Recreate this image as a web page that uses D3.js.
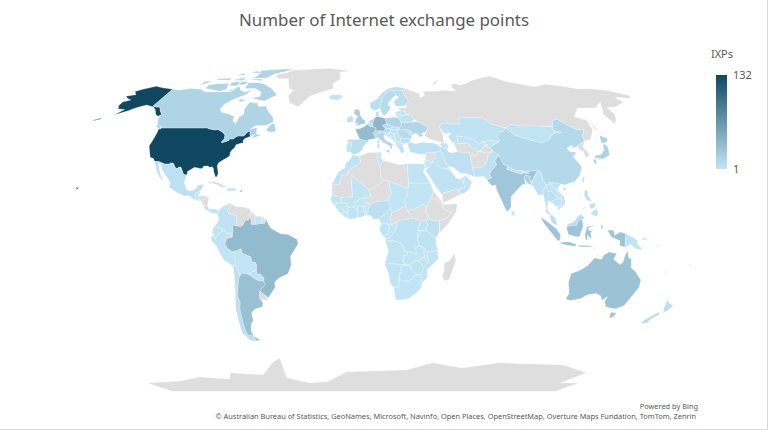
<!DOCTYPE html>
<html>
<head>
<meta charset="utf-8">
<script src="https://cdn.jsdelivr.net/npm/d3@7"></script>
<style>
  html, body { margin: 0; padding: 0; background: #fff; }
  text { font-family: "Noto Sans", sans-serif; fill: #595959; }
</style>
</head>
<body>
<svg id="chart" width="768" height="430"></svg>
<script>
const chartTitle = "Number of Internet exchange points";
const legendTitle = "IXPs";
const legendTicks = [1, 132];
const creditLines = ["Powered by Bing", "© Australian Bureau of Statistics, GeoNames, Microsoft, Navinfo, Open Places, OpenStreetMap, Overture Maps Fundation, TomTom, Zenrin"];

// countries that have a value (read from the shade of each country)
const countryNames = ["USA","Canada","Mexico","Guatemala","Belize","Salvador","CostaRica","Panama","Haiti","Dominican","Colombia","Suriname","Ecuador","Peru","Bolivia","Chile","Argentina","Paraguay","Brazil","Iceland","UK","Ireland","France","Spain","Portugal","Germany","Netherlands","Belgium","Switzerland","Austria","Italy","Denmark","Norway","Sweden","Finland","Poland","Czechia","Slovakia","Hungary","Slovenia","Croatia","Bosnia","Serbia","Albania","Macedonia","Greece","Bulgaria","Romania","Moldova","Ukraine","Belarus","Lithuania","Latvia","Estonia","Kazakhstan","Uzbekistan","Kyrgyzstan","Pakistan","Iran","Iraq","Jordan","Israel","Lebanon","Saudi","Oman","UAE","Qatar","Kuwait","Turkey","Azerbaijan","Cyprus","China","Taiwan","Mongolia","Japan","India","Nepal","Bangladesh","SriLanka","Myanmar","Thailand","Laos","Cambodia","Vietnam","Malaysia","Indonesia","PNG","Philippines","Australia","NewZealand","Fiji","NewCaledonia","Morocco","Mali","Tunisia","Egypt","Sudan","Chad","Nigeria","Benin","Togo","Ghana","Burkina","IvoryCoast","Liberia","SierraLeone","Guinea","GuineaBissau","Senegal","Cameroon","Gabon","Congo","DRC","Uganda","Kenya","Rwanda","Tanzania","Djibouti","Angola","Zambia","Malawi","Mozambique","Zimbabwe","Namibia","Botswana","SouthAfrica","Eswatini"];
const ixpCounts = [132,15,4,1,1,1,2,2,1,1,3,1,2,2,1,5,31,2,36,2,20,4,34,7,3,39,12,6,12,9,12,7,6,9,6,14,8,4,3,2,3,1,3,1,1,3,4,9,2,13,2,3,2,2,3,1,1,3,4,2,1,2,1,3,2,2,1,1,4,1,1,11,3,2,17,26,3,18,2,3,4,2,2,3,7,28,2,4,29,8,1,1,2,1,1,2,1,1,5,1,1,2,1,2,1,1,1,1,2,2,1,1,3,2,4,2,3,1,2,1,2,2,3,2,2,1,6,1];
// countries in the grey no-data colour
const noDataNames = ["Greenland","Russia","Cuba","Honduras","Nicaragua","Venezuela","Guyana","FrenchGuiana","Uruguay","Algeria","Mauritania","Libya","Niger","SouthSudan","CAR","Ethiopia","Eritrea","Somalia","Madagascar","Yemen","Syria","Turkmenistan","Tajikistan","Afghanistan","Bhutan","NorthKorea","SouthKorea","Antarctica","Lesotho"];

// rough country outlines as "lon,lat" rings
const outlines = {
  USA: ["-124.7,48.4 -123,49 -95.2,49 -94.6,48.7 -92,48.3 -89.6,48 -88.4,48.3 -84.8,46.9 -84.1,46.5 -82.5,45.3 -82.1,43.6 -82.4,43 -83.1,42.2 -82.7,41.7 -79,42.8 -79.1,43.5 -76.5,43.6 -76.3,44.2 -74.7,45 -71.5,45 -70.8,45.4 -70,46.7 -69.2,47.4 -68.3,47.3 -67.8,45.7 -67,44.9 -70,43.8 -70.7,42.7 -70,41.7 -71.5,41.4 -74,40.7 -74.1,39.5 -75.5,38 -76,37 -75.7,35.3 -77.5,34 -79,33.3 -81,32 -81.4,30.5 -80.5,28.3 -80,26.8 -80.4,25.2 -81.2,25.2 -81.8,26.2 -82.7,27.8 -83,29 -84,30 -85.3,29.7 -86.5,30.4 -88.8,30.4 -89.4,29.1 -90.5,29.2 -93.8,29.7 -95,29 -97.2,27.7 -97.2,25.9 -99.1,26.4 -100.3,28.2 -101.4,29.8 -102.7,29.7 -103.2,29 -104.5,29.6 -106.5,31.8 -108.2,31.8 -108.2,31.3 -111,31.3 -114.8,32.5 -117.1,32.5 -118.5,34 -120.6,34.6 -122,36.8 -123.8,39.5 -124.3,40.4 -124.1,42 -124.1,46.2",
    "-141,69.6 -141,60.3 -139,59.8 -135.5,59.7 -133.5,58 -130,55.9 -131.5,55 -134,56 -136.5,58 -140,59.8 -146,60.8 -149,60 -152,59 -154,58 -158,56.5 -163,54.8 -160,56 -157.5,58.5 -162,58.7 -164.5,60.5 -165,62.5 -161,63.5 -165,64.5 -168,65.6 -162.5,66.5 -166.5,68.3 -163,69.5 -156.5,71.3 -150,70.4",
    "-170,52.7 -166,53.5 -166,54 -170,53.1", "-156.1,20.2 -154.9,19.5 -155.7,18.9 -156,19.7", "-67.2,18.5 -65.7,18.4 -66,17.9"],
  Canada: ["-141,69.6 -135,69 -128,70 -120,69.5 -115,68 -108,68 -102,68 -96,68.3 -94,71.5 -90,69 -86,68 -81.5,69 -84,66.5 -87,65 -91,63.5 -94,61 -94.5,58.8 -92.5,57 -88,56.4 -82.5,55 -82,52.9 -79.5,51.3 -79,52 -79,54.5 -77,56 -78.5,58.7 -77.5,62.4 -72,61.8 -70,60 -65,60.3 -62,57.5 -57,54 -56,52 -60,50.2 -66,50.2 -69,48.3 -65,49.2 -64.5,47.5 -64,46 -61,45.5 -66,43.7 -64.8,45.8 -67,44.9 -67.8,45.7 -68.3,47.3 -69.2,47.4 -70,46.7 -70.8,45.4 -71.5,45 -74.7,45 -76.3,44.2 -76.5,43.6 -79.1,43.5 -79,42.8 -82.7,41.7 -83.1,42.2 -82.4,43 -82.1,43.6 -82.5,45.3 -84.1,46.5 -84.8,46.9 -88.4,48.3 -89.6,48 -92,48.3 -94.6,48.7 -95.2,49 -123,49 -125,50 -127.8,51 -130,54 -130,55.9 -133.5,58 -135.5,59.7 -139,59.8 -141,60.3",
    "-123.5,48.4 -125.5,48.9 -128.3,50.7 -125,50.2", "-59,47.7 -55.5,46.9 -52.8,47.2 -53.5,49 -55.5,51.5 -57.3,50.5",
    "-62,66 -68,63 -72,63.5 -78,64.5 -73,65.5 -74,68 -80,70 -88,70 -89,73.5 -81,73.5 -76,72.7 -68,70 -62,66.8",
    "-117,70 -105,68.5 -101,69.5 -104,73 -113,72.8 -118,72", "-125,72 -118,74.3 -124,74.3", "-90,76.5 -78,76.5 -75,79 -62,82.5 -72,83 -90,81.5 -87,78",
    "-92,75.7 -80,74.6 -81,75.8", "-117,75.2 -106,74.9 -106,76.2 -117,76", "-87,64 -80.5,63.7 -84,62.5", "-96,80 -86,79.5 -93,81.2",
    "-102,71.8 -96,71.5 -96,74 -102,73.8", "-95.5,72 -90,72.5 -90,74 -95,74", "-104,75 -94,75 -96,76.7", "-122,76 -113,78 -118,77", "-105,78 -98,78.5 -102,79.5", "-100,68.8 -95.5,68.8 -97,69.8"],
  Greenland: ["-73,78.2 -68,76 -60,76 -55,70 -51,69 -53,66 -50,62 -44,60 -42,61 -38,65.5 -30,68 -22,70 -23,73 -18,76 -20,80 -12,81.5 -30,83.5 -50,82.5 -62,81.8 -65,80"],
  Mexico: ["-117.1,32.5 -114.8,32.5 -111,31.3 -108.2,31.3 -108.2,31.8 -106.5,31.8 -104.5,29.6 -103.2,29 -102.7,29.7 -101.4,29.8 -100.3,28.2 -99.1,26.4 -97.2,25.9 -97.8,22.5 -96,19 -94.5,18.2 -92,18.6 -90.7,19.5 -90.4,21 -87,21.5 -87.5,19.5 -88.2,18.5 -89.1,17.9 -91,17.2 -90.5,16.1 -92.2,14.5 -94,16 -96.5,15.7 -101,17.5 -105.5,20 -105.5,22.5 -109,26 -112,29 -113,31.2 -114.7,31.5 -112.5,27.5 -110,24 -109.5,23 -112,25 -115,29"],
  Guatemala: ["-92.2,14.5 -90.5,16.1 -91,17.2 -89.1,17.8 -89.2,15.9 -88.2,15.7 -89.3,14.4 -90,13.8"],
  Belize: ["-89.1,17.9 -88.2,18.5 -88.3,16.5 -89.2,15.9"],
  Salvador: ["-90,13.8 -89.3,14.4 -87.8,13.9 -87.8,13.2"],
  Honduras: ["-89.2,15.9 -88.2,15.7 -86,16 -83.2,15 -84.7,14.7 -87.3,13 -87.8,13.9 -89.3,14.4"],
  Nicaragua: ["-87.3,13 -84.7,14.7 -83.2,15 -83.7,11 -85.7,11.1"],
  CostaRica: ["-85.7,11.1 -83.7,11 -82.6,9.5 -83,8.3 -85.5,10"],
  Panama: ["-83,8.3 -82.6,9.5 -79.5,9.6 -77.4,8.7 -77.9,7.2 -80.4,7.3"],
  Cuba: ["-85,21.9 -82,23.1 -77,21.5 -74.2,20.2 -77.7,19.9 -78,20.7 -82,22"],
  Haiti: ["-74.4,18.4 -73,19.9 -71.7,19.8 -71.7,18.1"],
  Dominican: ["-71.7,19.8 -69,19.3 -68.4,18.6 -71.7,18.1"],
  Colombia: ["-77.4,8.7 -75.5,10.7 -73,11.5 -71.7,12.4 -71.3,11 -72.8,9.1 -72,7 -70,6.9 -67.5,6 -67.8,2.8 -67,1.2 -69.8,1.7 -69.5,-1 -70,-4.2 -70.8,-2.2 -73,-2.3 -75.2,-0.1 -77.4,0.4 -79,1.5 -77.2,4 -77.9,7.2"],
  Venezuela: ["-71.7,12.4 -68,10.6 -64,10.5 -61,9.5 -60,8.5 -60.7,5.2 -61.3,4 -63,4 -64,1.9 -65.5,0.8 -67,1.2 -67.8,2.8 -67.5,6 -70,6.9 -72,7 -72.8,9.1 -71.3,11"],
  Guyana: ["-60,8.5 -57.2,6 -58,4 -57,2 -59.7,1.9 -60,3 -59.9,4 -61.3,4 -60.7,5.2"],
  Suriname: ["-57.2,6 -54,5.8 -54.5,2.4 -57,2 -58,4"],
  FrenchGuiana: ["-54,5.8 -51.7,4.2 -52.8,2.2 -54.5,2.4"],
  Ecuador: ["-79,1.5 -77.4,0.4 -75.2,-0.1 -75.6,-1.5 -78.3,-3.4 -79,-5 -80.3,-3.4 -79.8,-2.5 -81,-2.2 -80,0.5"],
  Peru: ["-80.3,-3.4 -79,-5 -78.3,-3.4 -75.6,-1.5 -75.2,-0.1 -73,-2.3 -70.8,-2.2 -70,-4.2 -73,-5 -74,-7.5 -73,-9.5 -70.5,-11 -69,-11 -69.5,-15 -69,-16.5 -69.5,-17.5 -70.4,-18.3 -75,-15.5 -77,-12.2 -79,-8 -81.3,-6 -81.3,-4.3"],
  Bolivia: ["-69,-11 -65.4,-9.8 -65,-12 -60.5,-13.7 -60,-16.3 -58.3,-16.3 -57.6,-18 -58,-20 -62.6,-22.2 -66.2,-21.8 -67.2,-22.8 -68.5,-20 -69.5,-17.5 -69,-16.5 -69.5,-15"],
  Chile: ["-70.4,-18.3 -69.5,-17.5 -68.5,-20 -67.2,-22.8 -68.3,-24.5 -69.7,-30 -70.5,-33 -70,-36 -71.2,-39.5 -71.8,-45 -72.3,-50 -72,-52 -68.4,-52.4 -68.6,-54.8 -70,-55.2 -72,-54.5 -75,-51 -74,-44 -73.5,-40 -73,-37 -71.5,-32 -70.5,-25"],
  Argentina: ["-66.2,-21.8 -62.6,-22.2 -60,-24 -57.6,-25.3 -54.6,-25.6 -53.8,-27.1 -57.6,-30.2 -58.4,-33.8 -57,-36.2 -57.7,-38 -62,-39 -65,-41 -65.4,-45 -67.5,-46.5 -69,-50.5 -68.4,-52.4 -72,-52 -72.3,-50 -71.8,-45 -71.2,-39.5 -70,-36 -70.5,-33 -69.7,-30 -68.3,-24.5 -67.2,-22.8", "-68.4,-52.7 -65.3,-54.8 -68.6,-54.9"],
  Uruguay: ["-57.6,-30.2 -53.4,-33.7 -54.9,-35 -58.4,-34.2"],
  Paraguay: ["-58,-20 -57.9,-22 -55.7,-22.3 -54.3,-24 -54.6,-25.6 -57.6,-25.3 -60,-24 -62.6,-22.2"],
  Brazil: ["-60.7,5.2 -59.9,4 -60,3 -59.7,1.9 -57,2 -54.5,2.4 -52.8,2.2 -51.7,4.2 -50,1 -49,0 -44,-2.6 -40,-2.9 -35.2,-5.3 -34.8,-7.5 -39,-13.5 -39,-18 -41,-22 -46,-24 -48.6,-26 -48.7,-28.5 -53.4,-33.7 -57.6,-30.2 -53.8,-27.1 -54.6,-25.6 -54.3,-24 -55.7,-22.3 -57.9,-22 -58,-20 -57.6,-18 -58.3,-16.3 -60,-16.3 -60.5,-13.7 -65,-12 -65.4,-9.8 -69,-11 -70.5,-11 -73,-9.5 -74,-7.5 -73,-5 -70,-4.2 -69.5,-1 -69.8,1.7 -67,1.2 -65.5,0.8 -64,1.9 -63,4 -61.3,4"],
  Iceland: ["-24,65.5 -22,66.4 -16,66.5 -13.6,65 -18,63.4 -22.7,63.9"],
  UK: ["-5.5,50 1.4,51.2 1.7,52.7 0,53.5 -1.6,55.5 -2,57.5 -3.2,58.6 -5,58.6 -6,56.5 -3,54.8 -4.5,53.3 -5,51.7 -3,51.3"],
  Ireland: ["-10,51.8 -6.2,52.2 -6,54 -7.3,55.3 -10,54.2"],
  France: ["-1.8,43.4 -4.6,48.4 -1.6,48.7 1.5,50 2.5,51 4.2,50 6.2,49.6 8.2,49 7.6,47.6 6,46.3 7,45.9 7.5,43.8 3.2,43.2 3.2,42.4", "8.6,42 9.5,43 9.4,41.4"],
  Spain: ["-9.2,43.2 -1.8,43.4 3.2,42.4 0,39.5 -0.5,38 -2,36.8 -5.5,36 -7.4,37.2 -7,39 -6.5,41.9 -8.8,41.9"],
  Portugal: ["-8.8,41.9 -6.5,41.9 -7,39 -7.4,37.2 -8.9,37 -9.5,38.8"],
  Germany: ["6,51 7,53.5 8.7,54.9 9.9,54.8 14.2,53.9 14.8,51 12.2,50.3 13.8,48.7 13,47.5 7.6,47.6 8.2,49 6.2,49.6"],
  Netherlands: ["3.4,51.4 4.8,53 7,53.5 6,51"],
  Belgium: ["2.5,51 3.4,51.4 6,51 6.2,49.6 4.2,50"],
  Switzerland: ["6,46.3 7.6,47.6 9.6,47.5 10.4,46.8 9,46 7,45.9"],
  Austria: ["9.6,47.5 13,47.5 13.8,48.7 17,48.7 16.5,46.9 13.7,46.5 10.4,46.8"],
  Italy: ["7,45.9 9,46 10.4,46.8 13.7,46.5 12.4,44.5 14,42.5 16,41.8 18.5,40.2 16.9,40.4 17,39 16,38 15.8,40 12.3,41.7 10.5,43 8.8,44.4 7.5,43.8", "12.5,38 15.6,38.2 15,36.7", "8.3,41 9.7,41 9.5,39.1 8.5,39"],
  Denmark: ["8.2,55 8.6,57.1 10.6,57.7 10.3,55.6 9.9,54.8 8.7,54.9"],
  Norway: ["5,59 5,62 10,64 14,67.5 19,70 25,71 31,70.2 29,69 25,69 21,69.2 16,67 14,65 12,61 11.5,59 8,58"],
  Sweden: ["11.5,59 12,61 14,65 16,67 21,69.2 24,66 22,65.5 17.5,62 17.2,60.7 18.8,59.8 16.5,57 14.3,55.5 12.8,55.5"],
  Finland: ["21,69.2 25,69 29,69 29.5,66 31.5,62.8 27.8,60.5 23,60 21.4,61 21.5,63 25.3,65 24,66"],
  Poland: ["14.2,53.9 19,54.4 23,54.3 24,51.6 24,50.5 22.6,49.1 18.8,49.6 14.8,51"],
  Czechia: ["12.2,50.3 14.8,51 18.8,49.6 17,48.7 13.8,48.7"],
  Slovakia: ["17,48.7 18.8,49.6 22.6,49.1 22.1,48.4 18.8,47.9"],
  Hungary: ["16.5,46.9 17,48.7 18.8,47.9 22.1,48.4 21,46.2 18.8,45.9"],
  Slovenia: ["13.7,46.5 16.5,46.9 15.5,45.5 13.6,45.5"],
  Croatia: ["13.6,45.5 15.5,45.5 16.5,46.9 18.8,45.9 19,45 16,45 18.5,42.5 15,44.5"],
  Bosnia: ["16,45 19,45 19.3,43.5 18.5,42.5"],
  Serbia: ["19,45 18.8,45.9 21,46.2 22.7,44.3 22.4,42.4 20.6,42 19.3,43.5"],
  Albania: ["18.5,42.5 19.3,43.5 20.6,42 21,40.9 19.4,40 19.4,41.7"],
  Macedonia: ["20.6,42 22.4,42.4 23,41.3 21,40.9"],
  Greece: ["21,40.9 23,41.3 26.3,41.7 24,40.8 22.8,40.4 24,38 23,36.5 21.5,37 21,39 19.4,40", "23.6,35.5 26.3,35.2 25,35"],
  Bulgaria: ["22.4,42.4 22.7,44.3 27.9,43.7 28,42 26.3,41.7 23,41.3"],
  Romania: ["21,46.2 22.1,48.4 22.9,48 26.6,48.3 28.2,45.5 29.7,45.2 28.6,43.7 27.9,43.7 22.7,44.3"],
  Moldova: ["26.6,48.3 29.2,47.5 30,46.4 28.2,45.5"],
  Ukraine: ["22.1,48.4 22.6,49.1 24,50.5 24,51.6 31,52 34,52.3 40,49.6 38.2,47.1 35,46.2 36.5,45.3 33.5,44.5 33,46 30.7,46.4 29.7,45.2 28.2,45.5 30,46.4 29.2,47.5 26.6,48.3 22.9,48"],
  Belarus: ["23,54.3 26.6,55.6 30.8,55.6 32.7,53.4 31,52 24,51.6"],
  Lithuania: ["21,56 26.6,55.6 23,54.3 21,55.3"],
  Latvia: ["21,56.8 24.4,57.9 27.4,57.6 28,57.5 28,56 26.6,55.6 21,56"],
  Estonia: ["23.5,59.2 28,59.4 27.4,57.6 24.4,57.9"],
  Russia: ["31,70.2 41,67 40,64.7 44,66 44,68.5 54,68.5 60,69 68,68.5 67,72 72,73 74,72 78,72.5 87,75 100,77 105,77.7 113,74 130,71 140,72.5 150,71.5 160,69.7 170,69.8 180,68.8 190,66 187,64.3 180,65 177,64.5 179,62.5 170,60 163,59.5 163,56 160,53 156.7,51 155.5,56 158,58 163,62.5 155,59.3 143,59.3 135.3,54.7 141,53 140,48 135,43.5 130.7,42.5 131,45 135,48.4 130.7,48 127,50 123,53.5 120,53 116.7,49.8 108,50 98,50 92,50.8 87.3,49.1 80,51 76.5,54 71,54.2 61,54 60,51 50,51.5 47,49.5 48,46 47.7,42 47.7,41.2 46.5,41.8 40,43.4 37,45 38.2,47.1 40,49.6 34,52.3 32.7,53.4 30.8,55.6 28,56 28,57.5 27.4,57.6 28,59.4 30,60 27.8,60.5 31.5,62.8 29.5,66 29,69",
    "142,54 143,49 142,46 142,50", "52,71 56,74 68,77 60,75"],
  Kazakhstan: ["47,49.5 50,51.5 60,51 61,54 71,54.2 76.5,54 80,51 87.3,49.1 85,47 83,47 80,45 80.8,43 80.2,42.2 75,42.8 71,42.3 68,41 66,43 61,44.4 56,45 56,41.3 53,42 52.5,41.7 51,44.5 53,46.5 49,46.3"],
  Uzbekistan: ["56,45 61,44.4 66,43 68,41 71,42.3 71,41.3 73,40.7 70.5,40 68,38 66.5,37.4 64,38.9 61,41.5 56,41.3"],
  Turkmenistan: ["53,42 56,41.3 61,41.5 64,38.9 66.5,37.4 64.5,35.3 61,35.6 61,36.6 54,37.3 53.8,39.5"],
  Kyrgyzstan: ["71,42.3 75,42.8 80.2,42.2 74,39.5 70.5,40 73,40.7 71,41.3"],
  Tajikistan: ["70.5,40 74,39.5 74.9,37.4 71.5,36.8 68,37 68,38"],
  Afghanistan: ["61,35.6 64.5,35.3 66.5,37.4 68,37 71.5,36.8 74.9,37.4 71.5,36 70,33 69,31.5 66,29.4 61,29.5 61,31.5"],
  Pakistan: ["61,29.5 66,29.4 69,31.5 70,33 71.5,36 74.9,37.4 77.5,35.5 74.5,33 75,31 71.3,28 70,26 71,24.5 68.2,23.7 66.7,25.3 61.6,25"],
  Iran: ["44.8,39.7 48,39.5 49,37.5 51,36.7 54,37.3 61,36.6 61,35.6 61,31.5 61,29.5 61.6,25 57,26.7 54,26.7 50.5,29.8 48.5,30 46,33 45.8,35.8 44.5,37.5"],
  Iraq: ["42,37.2 44.5,37.5 45.8,35.8 46,33 48.5,30 48,30 46.5,29.1 44,29.1 39,32.2 41,34.4 41.3,36.5"],
  Syria: ["35.8,36.7 42,37.2 41.3,36.5 41,34.4 39,32.2 36,33 35.9,34.7"],
  Jordan: ["36,33 39,32.2 37,30 36,29.5 35,29.5 35.5,31.7"],
  Israel: ["34.3,31.3 35.1,33.1 36,33 35.5,31.7 35,29.5"],
  Lebanon: ["35.1,33.1 35.7,34.6 36.5,34.5 36,33.2"],
  Saudi: ["34.7,28.1 37,30 39,32.2 44,29.1 46.5,29.1 48.4,28.5 50,26.5 51.3,24.6 51.5,24.5 55,22.7 55.6,20 52,19 49,18.6 44,17.4 43.2,16.7 42.8,16.5 39,21.5 37,25"],
  Yemen: ["43.2,12.7 43,15 43.2,16.7 44,17.4 49,18.6 52,19 53.1,16.6 45,13"],
  Oman: ["55.6,20 55,22.7 56.3,24.9 56.5,26 59.8,22.5 57.8,19 55,17 53.1,16.6 52,19"],
  UAE: ["51.5,24.5 54,24.2 56.3,25.8 56.3,24.9 55,22.7"],
  Qatar: ["51,26 51.6,25.8 51.3,24.6"],
  Kuwait: ["46.5,29.1 48.4,28.5 48,30"],
  Turkey: ["26.3,41.7 28,42 31,41.2 35,42 41.5,41.5 43.5,41 44.8,39.7 44.5,37.5 42,37.2 35.8,36.7 36,36 32,36.1 30.5,36.5 27.5,37 26.5,39.5 26.5,40.3"],
  Azerbaijan: ["45,41 46.5,41.8 47.7,41.2 48.5,41.8 50,40.3 48.9,38.4 48,39.5 46.5,39"],
  Cyprus: ["32.3,35 34.5,35.6 33.8,34.9"],
  China: ["74,39.5 80.2,42.2 80.8,43 80,45 83,47 85,47 87.3,49.1 91,45.5 95.5,44 101,42.6 105,41.7 111,43.5 112,45 116,46.5 119.8,46.7 116,47.8 116.7,49.8 120,53 123,53.5 127,50 130.7,48 135,48.4 131,45 130.7,42.5 128,41.5 124.4,40 121.5,38.9 122,40.5 118,39 119,37.3 122.5,37 119.3,35 121.8,31 122,29.5 119.5,25.5 116,22.8 110.5,21.2 108,21.5 106.7,22 102,22.5 101.7,21.2 100,21.7 98.8,24.2 98.5,27.5 97.3,28.3 92,27.8 88.8,27.9 84,28.5 81,30.2 78.8,31 78,34 77.5,35.5 74.9,37.4", "108.7,19.3 110.8,20 110,18.4"],
  Taiwan: ["121,25 122,25 120.9,22 120.1,23"],
  Mongolia: ["87.3,49.1 92,50.8 98,50 108,50 116.7,49.8 116,47.8 119.8,46.7 116,46.5 112,45 111,43.5 105,41.7 101,42.6 95.5,44 91,45.5"],
  NorthKorea: ["124.4,40 128,41.5 130.7,42.5 127.6,39.5 128.3,38.6 126.7,37.8 125,38"],
  SouthKorea: ["126.7,37.8 128.3,38.6 129.4,36 127.5,34.7 126.3,34.6"],
  Japan: ["131,34 132.5,35.5 136,36 139,38 140,40.5 141.4,41.3 142,39.5 140.8,35.7 138,34.7 135.5,33.7 133,34.2", "140,41.5 141.7,45.4 145.3,43.5 143,42", "130,33.5 131.7,33.5 131,31.2 130.2,31.4", "132.5,33 134.5,34.2 134,33.4"],
  India: ["68.2,23.7 71,24.5 70,26 71.3,28 75,31 74.5,33 77.5,35.5 78,34 78.8,31 81,30.2 80,28.8 84,27.4 88,26.4 88.8,27.9 88.8,26.8 92,26.8 92,27.8 97.3,28.3 95.5,26.5 93.5,24 92.5,22.5 91.5,24.2 92.2,25.2 89.8,26 88.7,24.5 89,21.7 87,21.3 85,19.5 80.3,15.5 80,13 79.8,10.3 77.5,8 76,11 74,16 72.8,19 72.6,21 70.5,20.8 69,22.3"],
  Nepal: ["81,30.2 84,28.5 88.8,27.9 88,26.4 84,27.4 80,28.8"],
  Bhutan: ["88.8,27.9 92,27.8 92,26.8 88.8,26.8"],
  Bangladesh: ["88.7,24.5 89.8,26 92.2,25.2 91.5,24.2 92.5,21 90,22"],
  SriLanka: ["79.8,9 81.8,7.5 80.8,6 80,7"],
  Myanmar: ["92.5,21 92.5,22.5 93.5,24 95.5,26.5 97.3,28.3 98.5,27.5 98.8,24.2 100,21.7 100,20.4 97.8,18 98.7,10 98.3,15 97.7,16.5 95,16 94.3,18"],
  Thailand: ["97.8,18 100,20.4 101,18 102.5,18 104.7,16.3 105.5,14.3 102.5,13.6 102.9,11.7 100.9,13.4 100,13.4 99.3,9.5 100.5,7.3 102,6.3 100.2,6.6 98.3,8 98.7,10"],
  Laos: ["100,20.4 100,21.7 101.7,21.2 102,22.5 104.5,19.5 107.5,15.8 107.5,14.6 105.5,14.3 104.7,16.3 102.5,18 101,18"],
  Cambodia: ["102.5,13.6 105.5,14.3 107.5,14.6 106.8,11.2 104.8,10.4 102.9,11.7"],
  Vietnam: ["102,22.5 106.7,22 108,21.5 105.8,19 108.9,15.5 109.3,12.5 107,10.4 105,8.7 104.8,10.4 106.8,11.2 107.5,14.6 107.5,15.8 104.5,19.5"],
  Malaysia: ["100.2,6.6 102,6.3 103.4,4.5 104.2,1.4 101.3,2.8", "109.6,1 109.6,2 111.3,2.7 113,3.2 116.7,7 119.2,5.2 117.7,4.2 115.8,4.3 114.5,1.5 112,1.5"],
  Indonesia: ["95.3,5.6 98,4 103.5,0 106,-3 105.8,-5.8 104.5,-5.8 100.5,-1.5 97,2.5", "109.6,1 112,1.5 114.5,1.5 115.8,4.3 117.7,4.2 118,1 116.2,-3.8 114.5,-4 110.2,-2.9 109,0.5", "105.3,-6.8 108.5,-6.6 111,-6.5 114.5,-7.7 114.3,-8.7 108,-7.8", "119.5,-5.5 119,-3 120,0.8 124.5,1.3 125,1.5 120.8,0.2 121,-1 123.3,-1 122,-2 122.7,-5 121.3,-4 120.4,-3 120.4,-5.6", "115,-8.2 119,-8.3 123,-8.4 123,-8.9 117,-9", "123.5,-10.3 127.3,-8.4 124.5,-9.9", "127.5,2 128.7,1 128,-0.8", "131,-0.8 134.2,-0.8 135,-3.3 138,-1.7 141,-2.6 141,-9.1 138,-8.3 138,-6 133,-4 132.5,-2.8"],
  PNG: ["141,-2.6 145,-4.4 147.8,-6 147,-7 150.8,-10.4 147,-10 144,-7.7 141,-9.1", "148.5,-5.7 152,-4.2 152,-5.5", "159,-8 160.8,-9.7 157,-7"],
  Philippines: ["120.5,18.5 122.2,18.5 122,16 124,13 121,13.7 120,16", "122,7 125.5,9.7 126.5,7.5 125.5,5.8 124,6.5", "122,11.8 125.5,12.5 125,10.3 122.5,9.5", "117.3,8.4 119.7,11.3 119.4,10.2"],
  Australia: ["114,-22 113.5,-26 115.7,-31.5 115,-34.3 118,-35 123.5,-34 126,-32.3 131,-31.5 134,-32.8 135.7,-34.9 138,-33 137.7,-35.5 140,-38 143.5,-38.8 146.4,-39 150,-37.5 151.3,-33.8 153.5,-28.5 153,-25 149,-21 146,-19 145.3,-15 143.5,-14 142.5,-10.8 141.6,-13 141,-16.5 139.5,-17.5 135.7,-15 136.8,-12.2 132.7,-11.4 130,-13 129,-15 125.5,-14.2 122.2,-18 119,-20", "144.7,-40.8 148.2,-40.9 147.9,-43.2 146,-43.5"],
  NewZealand: ["172.8,-34.5 174.5,-36 178.5,-37.7 176.8,-40 175,-41.5 175,-39.7 174,-39", "172.7,-40.6 174.2,-41.5 171,-44.5 170.7,-46 167,-46.3 168,-44.3"],
  Fiji: ["177.3,-17.5 178.6,-17.7 178,-18.3"],
  NewCaledonia: ["164,-20 167,-22.3 166,-22"],
  Morocco: ["-5.9,35.8 -2,35.1 -1.2,32.2 -8.7,27.7 -8.7,26 -12,26 -12,23.4 -13,21.3 -17,21.3 -14.5,26 -13.2,27.7 -10,29.5 -9.8,31.5 -7,33.8"],
  Algeria: ["-2,35.1 3,36.9 8.6,36.9 8.2,33 9.5,30 10,24 12,23.5 5.7,19.4 3.2,18.9 -4.8,25 -8.7,27.7 -1.2,32.2"],
  Mauritania: ["-8.7,27.7 -4.8,25 -6.5,25 -5.5,15.5 -12,15 -16.5,16.3 -17,21.3 -13,21.3 -12,23.4 -12,26 -8.7,26"],
  Mali: ["-6.5,25 -4.8,25 3.2,18.9 4.2,16.8 4,15.3 0,14.9 -3,13.6 -5.4,10.4 -8,10.2 -8.3,12 -11.5,12.3 -12,15 -5.5,15.5"],
  Tunisia: ["8.6,36.9 11,37.1 10.2,34.2 11.5,33 9.5,30 8.2,33"],
  Libya: ["11.5,33 15,32.3 20,31 25,31.6 25,20 24,19.5 15,23 14.2,22.6 12,23.5 10,24 9.5,30"],
  Egypt: ["25,31.6 34.2,31.3 34.9,29.5 33.5,27.8 37,22 25,22"],
  Sudan: ["25,22 37,22 38.5,18 36.5,14.3 34.2,10.5 32.5,12 28,9.5 24,8.7 23,11 22.5,14 24,15.7 24,19.5 25,20"],
  SouthSudan: ["24,8.7 28,9.5 32.5,12 34.2,10.5 33.8,8 35.9,4.6 33.9,4.2 31,3.7 27,5"],
  Chad: ["14.2,22.6 15,23 24,19.5 24,15.7 22.5,14 23,11 19,9 15.5,7.6 15,10 14,13 13.6,13.7 15.5,16.9"],
  Niger: ["5.7,19.4 12,23.5 14.2,22.6 15.5,16.9 13.6,13.7 10,13.2 7,13 3.6,11.7 2.2,12.5 1,13.3 0,14.9 4,15.3 4.2,16.8 3.2,18.9"],
  Nigeria: ["2.7,6.4 2.7,9 3.6,11.7 7,13 10,13.2 13.6,13.7 14,13 15,10 11.9,7 8.6,4.7 5.5,4.4 4.4,6.3"],
  Benin: ["1.6,6.2 2.7,6.4 2.7,9 3.6,11.7 2.2,12.5 0.9,11 1.6,9"],
  Togo: ["1.2,6.1 1.6,6.2 1.6,9 0.9,11 0,11 0.5,8"],
  Ghana: ["-3,5.1 1.2,6.1 0.5,8 0,11 -2.8,11 -2.9,8"],
  Burkina: ["-5.4,10.4 -3,13.6 0,14.9 1,13.3 2.2,12.5 0.9,11 -2.8,11 -2.9,9.5"],
  IvoryCoast: ["-7.6,4.4 -3,5.1 -2.9,8 -2.9,9.5 -5.4,10.4 -8,10.2 -8.3,7.5"],
  Liberia: ["-11.4,6.9 -7.6,4.4 -8.3,7.5 -10,8.5"],
  SierraLeone: ["-13.3,8.5 -11.4,6.9 -10,8.5 -11,10 -12.5,10"],
  Guinea: ["-15,11 -13.3,8.5 -12.5,10 -11,10 -10,8.5 -8.3,7.5 -8,10.2 -8.3,12 -11.5,12.3 -13.7,12.6"],
  GuineaBissau: ["-16.7,12.3 -13.7,12.6 -15,11"],
  Senegal: ["-17.5,14.7 -16.5,16.3 -12,15 -11.5,12.3 -13.7,12.6 -16.7,12.3"],
  Cameroon: ["8.6,4.7 11.9,7 15,10 15.5,7.6 14.5,4.5 16,2 13,2.2 9.8,2.3"],
  CAR: ["15.5,7.6 19,9 23,11 24,8.7 27,5 22.5,4.2 18.5,3.6 16,2 14.5,4.5"],
  Gabon: ["9.8,2.3 13,2.2 14.3,1.4 14,-2.5 11,-3.9 8.8,-0.7 9.3,1"],
  Congo: ["13,2.2 16,2 18.5,3.6 17.8,0 16,-3 14,-4.7 12.2,-4.8 11,-3.9 14,-2.5 14.3,1.4"],
  DRC: ["18.5,3.6 22.5,4.2 27,5 31,3.7 29.6,0 29.6,-1.4 29.1,-2.5 29.5,-4.4 29.3,-6 30.7,-8.3 28.4,-9.2 29,-12.4 27,-11.8 24,-10.9 22,-11 22,-9.5 20.5,-6.9 16.6,-6 13.9,-5.9 12.2,-5.9 12.2,-4.8 14,-4.7 16,-3 17.8,0"],
  Uganda: ["31,3.7 33.9,4.2 35,1.7 33.9,0 33.9,-1 30.5,-1.1 29.6,-1.4 29.6,0"],
  Kenya: ["33.9,4.2 35.9,4.6 39,3.5 41,3.9 41,-1.7 39.2,-4.7 33.9,-1 33.9,0 35,1.7"],
  Rwanda: ["29.1,-2.5 29.6,-1.4 30.5,-1.1 30.8,-3 29.5,-4.4"],
  Tanzania: ["33.9,-1 39.2,-4.7 39.5,-8 40.4,-10.5 38,-11.2 34.8,-11.5 33,-9.5 30.7,-8.3 29.3,-6 29.5,-4.4 30.8,-3 30.5,-1.1"],
  Ethiopia: ["33.8,8 34.2,10.5 36.5,14.3 40,14.5 42.4,12.5 42.8,11 44,9 48,8 45,5 42,4 41,3.9 39,3.5 35.9,4.6"],
  Eritrea: ["36.5,14.3 38.5,18 43,12.7 42.4,12.5 40,14.5"],
  Djibouti: ["42.4,12.5 43,12.7 43.3,11.5 42.8,11"],
  Somalia: ["42.8,11 43.3,11.5 51,12 50,8 46,2.5 41.6,-1.7 41,-1.7 41,3.9 42,4 45,5 48,8 44,9"],
  Angola: ["12.2,-5.9 13.9,-5.9 16.6,-6 20.5,-6.9 22,-9.5 22,-11 24,-10.9 24,-13 22,-13 22,-16.2 23.3,-17.6 18.5,-17.4 13.5,-17 11.8,-17.3 13.8,-11"],
  Zambia: ["22,-13 24,-13 24,-10.9 27,-11.8 29,-12.4 28.4,-9.2 30.7,-8.3 33,-9.5 33,-12 33.3,-14 30.3,-15.5 28,-16 25.3,-17.8 23.3,-17.6 22,-16.2"],
  Malawi: ["33,-9.5 34.8,-11.5 35,-14 35.8,-16 35,-17 33.3,-14 33,-12"],
  Mozambique: ["34.8,-11.5 38,-11.2 40.4,-10.5 40.7,-15 35,-20 35.5,-24 32.9,-26 32,-25 32,-22.3 33,-19 30.3,-15.5 33.3,-14 35,-17 35.8,-16 35,-14"],
  Zimbabwe: ["25.3,-17.8 28,-16 30.3,-15.5 33,-19 32,-22.3 29.5,-22.2 27,-20.5"],
  Namibia: ["11.8,-17.3 13.5,-17 18.5,-17.4 23.3,-17.6 25.3,-17.8 21,-18.3 21,-22 20,-22 20,-28.4 17,-28.6 15,-26.5 14.4,-22.5"],
  Botswana: ["21,-18.3 25.3,-17.8 27,-20.5 29.5,-22.2 26.5,-24.8 25,-25.7 22.8,-25.5 20,-24.8 20,-22 21,-22"],
  SouthAfrica: ["17,-28.6 20,-28.4 20,-24.8 22.8,-25.5 25,-25.7 26.5,-24.8 29.5,-22.2 32,-22.3 32,-25 32.9,-26 32.5,-28.5 30,-31.5 26,-34 20,-34.8 18.4,-34.2 18,-32"],
  Lesotho: ["27.2,-29.8 28.7,-28.7 29.4,-29.8 28,-30.6"],
  Eswatini: ["31,-26 32,-26 32,-27.3 31,-27"],
  Madagascar: ["49.3,-12 50.4,-15.5 47.5,-24.8 45,-25.5 43.5,-23 44.4,-20 44,-17 47,-15.5"],
  Antarctica: ["-181,-86 -182.6,-79 -152,-77.8 -130,-75.1 -108,-76.4 -102,-72.6 -78,-73.8 -64,-66.3 -58,-64.1 -61,-75.6 -45,-79 -30,-78.3 -12,-72 33,-70.9 50,-66.8 74,-69.7 98,-66.8 146,-68 172,-72.5 167.5,-79 183,-79 182.7,-86"]
};

// Robinson table, used through d3 scales
const robinsonLats = [0,5,10,15,20,25,30,35,40,45,50,55,60,65,70,75,80,85,90];
const robinsonLen = [1,.9986,.9954,.99,.9822,.973,.96,.9427,.9216,.8962,.8679,.835,.7986,.7597,.7186,.6732,.6213,.5722,.5322];
const robinsonDepth = [0,.062,.124,.186,.248,.31,.372,.434,.4958,.5571,.6176,.6769,.7346,.7903,.8435,.8936,.9394,.9761,1];

const width = 768, height = 430;
const mapCx = 362.8, mapEquator = 228.5, xScale = 107, yScale = 166;
const noDataColor = "#dedede";

const lenScale = d3.scaleLinear().domain(robinsonLats).range(robinsonLen);
const depthScale = d3.scaleLinear().domain(robinsonLats).range(robinsonDepth);
const colorScale = d3.scaleLinear().domain(d3.extent(legendTicks)).range(["#c2e5f5", "#0f4761"]);

const robinson = d3.geoTransform({
  point(lon, lat) {
    const a = Math.abs(lat);
    this.stream.point(
      mapCx + xScale * (lon * Math.PI / 180) * lenScale(a),
      mapEquator - Math.sign(lat) * yScale * depthScale(a)
    );
  }
});
const path = d3.geoPath(robinson);

function toGeometry(name) {
  const rings = outlines[name].map(s => {
    const pts = s.split(" ").map(p => p.split(",").map(Number));
    pts.push(pts[0]);
    return [pts];
  });
  return { type: "MultiPolygon", coordinates: rings };
}

const svg = d3.select("#chart");

svg.append("rect").attr("x", 0.5).attr("y", 0.5).attr("width", width - 1).attr("height", height - 1)
  .attr("fill", "#fff").attr("stroke", "#fff");
// only the right and bottom edges show a frame line in the reference
svg.append("path").attr("d", d3.line()([[width - 0.5, 0], [width - 0.5, height - 0.5], [0, height - 0.5]]))
  .attr("fill", "none").attr("stroke", "#d9d9d9");

const countries = noDataNames.map(n => ({ name: n, value: null }))
  .concat(countryNames.map((n, i) => ({ name: n, value: ixpCounts[i] })));

svg.append("g").selectAll("path")
  .data(countries)
  .enter()
  .append("path")
  .attr("d", d => path(toGeometry(d.name)))
  .attr("fill", d => d.value === null ? noDataColor : colorScale(d.value))
  .attr("stroke", "#fff")
  .attr("stroke-opacity", 0.6)
  .attr("stroke-width", 0.4)
  .attr("stroke-linejoin", "round");

svg.append("text").attr("x", 384).attr("y", 26).attr("text-anchor", "middle")
  .attr("font-size", 16.9).text(chartTitle);

// legend
const grad = svg.append("defs").append("linearGradient").attr("id", "legendGrad")
  .attr("x1", 0).attr("y1", 1).attr("x2", 0).attr("y2", 0);
grad.append("stop").attr("offset", 0).attr("stop-color", colorScale(legendTicks[0]));
grad.append("stop").attr("offset", 1).attr("stop-color", colorScale(legendTicks[1]));

const legendScale = d3.scaleLinear().domain(d3.extent(legendTicks)).range([169, 75]);
svg.append("rect").attr("x", 716).attr("y", 75).attr("width", 11).attr("height", 94).attr("fill", "url(#legendGrad)");
svg.append("text").attr("x", 722).attr("y", 58).attr("text-anchor", "middle").attr("font-size", 11).text(legendTitle);
const legendAxis = svg.append("g").attr("transform", "translate(727,0)")
  .call(d3.axisRight(legendScale).tickValues(legendTicks).tickSize(0).tickPadding(6).tickFormat(d3.format("d")));
legendAxis.select(".domain").remove();
legendAxis.selectAll("text").attr("font-size", 11).style("font-family", '"Noto Sans", sans-serif').style("fill", "#595959");

svg.append("text").attr("x", 698).attr("y", 409).attr("text-anchor", "end").attr("font-size", 7.4).text(creditLines[0]);
svg.append("text").attr("x", 696).attr("y", 419).attr("text-anchor", "end").attr("font-size", 7.4).text(creditLines[1]);
</script>
</body>
</html>
